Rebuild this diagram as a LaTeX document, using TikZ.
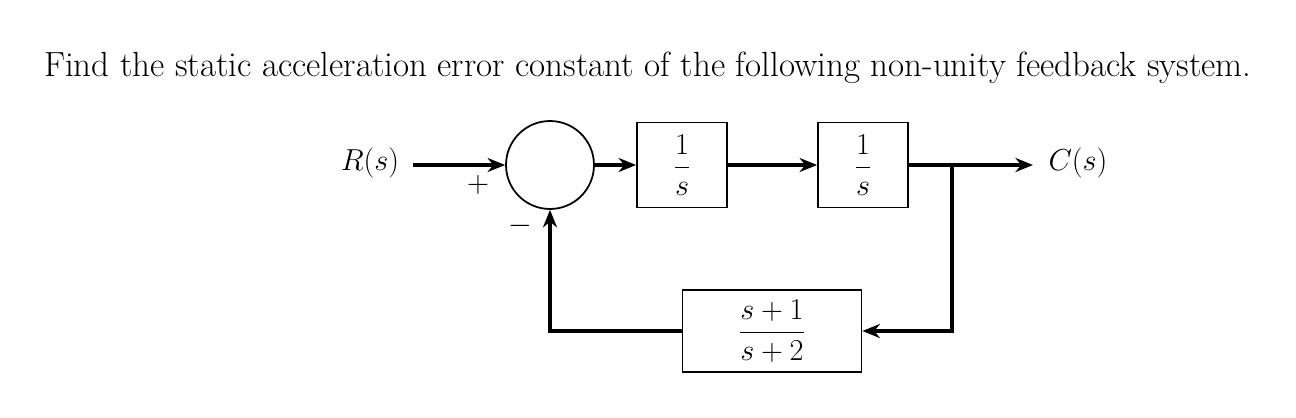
\documentclass[tikz,border=0pt]{standalone}
\usetikzlibrary{arrows.meta}
\begin{document}
\begin{tikzpicture}[x=0.02cm,y=-0.02cm,
  every node/.style={font=\fontsize{17}{20}\selectfont},
  blk/.style={draw,line width=1pt,inner sep=0pt},
  sig/.style={line width=1.8pt,-{Stealth[length=10pt,width=8pt]}},
  wire/.style={line width=1.8pt}]
\useasboundingbox (0,0) rectangle (1296,418);
\node[anchor=west,font=\fontsize{19.9}{23}\selectfont] (title) at (38,68) {Find the static acceleration error constant of the following non-unity feedback system.};
\node[draw,circle,line width=1pt,minimum size=1.76cm] (sum) at (550,165) {};
\node[blk,minimum width=1.8cm,minimum height=1.7cm] (g1) at (682,165) {$\displaystyle\frac{1}{s}$};
\node[blk,minimum width=1.8cm,minimum height=1.7cm] (g2) at (863,165) {$\displaystyle\frac{1}{s}$};
\node[blk,minimum width=3.58cm,minimum height=1.64cm] (h) at (772,331) {$\displaystyle\frac{s+1}{s+2}$};
\node (R) at (370,163) {$R(s)$};
\node (C) at (1078,163) {$C(s)$};
\node (plus) at (478,185) {$+$};
\node (minus) at (520,226) {$-$};
\coordinate (rin) at (413,165);
\coordinate (br) at (952,165);
\coordinate (cout) at (1033,165);
\draw[sig] (rin) -- (sum.west);
\draw[sig] (sum.east) -- (g1.west);
\draw[sig] (g1.east) -- (g2.west);
\draw[sig] (g2.east) -- (cout);
\draw[sig] (br) |- (h.east);
\draw[sig] (h.west) -| (sum.south);
\end{tikzpicture}
\end{document}
